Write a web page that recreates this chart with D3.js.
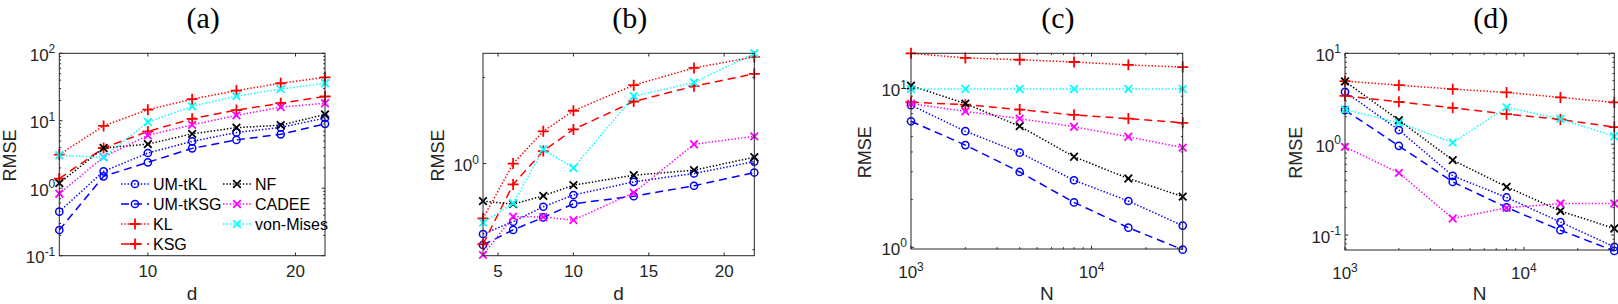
<!DOCTYPE html>
<html><head><meta charset="utf-8">
<script src="https://cdn.jsdelivr.net/npm/d3@7"></script>
<style>body{margin:0;background:#fff}svg{display:block}</style>
</head><body>
<script>
// ---------------- data ----------------
const seriesNames = ["UM-tKL","UM-tKSG","KL","KSG","NF","CADEE","von-Mises"];
const dA = [4,7,10,13,16,19,22];
const dB = [4,6,8,10,14,18,22];
const nC = [1000,2000,4000,8000,16000,32000];
const nD = [1000,2000,4000,8000,16000,32000];

// panel (a)
const aUMtKL   = [0.45,1.78,3.33,4.95,6.7,7.96,11.0];
const aUMtKSG  = [0.24,1.5,2.42,3.9,5.2,6.3,9.0];
const aKL      = [3.15,8.4,14.6,20.9,28,36,44];
const aKSG     = [1.39,3.95,6.95,10.7,14.4,18.2,22.9];
const aNF      = [1.19,3.95,4.5,6.4,7.9,8.6,12.4];
const aCADEE   = [0.83,2.9,6.07,8.7,12.0,15.9,18.2];
const aVonMises= [3.08,2.87,9.6,16.3,23.2,29.4,36];

// panel (b)
const bUMtKL   = [0.567,0.626,0.706,0.776,0.863,0.923,1.016];
const bUMtKSG  = [0.519,0.586,0.648,0.723,0.769,0.836,0.930];
const bKL      = [0.643,1.0,1.296,1.53,1.88,2.16,2.36];
const bKSG     = [0.522,0.845,1.106,1.316,1.648,1.864,2.06];
const bNF      = [0.739,0.721,0.771,0.840,0.91,0.948,1.052];
const bCADEE   = [0.479,0.652,0.65,0.634,0.79,1.168,1.245];
const bVonMises= [0.621,0.726,1.121,0.965,1.72,1.92,2.43];

// panel (c)
const cUMtKL   = [7.9,5.41,3.96,2.65,1.96,1.37];
const cUMtKSG  = [6.25,4.42,2.99,1.92,1.33,0.966];
const cKL      = [16.8,15.7,15.3,14.8,14.2,13.75];
const cKSG     = [8.24,7.96,7.41,6.86,6.5,6.11];
const cNF      = [10.5,8.08,5.82,3.73,2.72,2.09];
const cCADEE   = [8.08,7.22,6.5,5.77,4.99,4.26];
const cVonMises= [10.0,10.0,10.0,10.0,10.0,10.0];

// panel (d)
const dUMtKL   = [3.77,1.43,0.448,0.259,0.139,0.074];
const dUMtKSG  = [2.37,0.958,0.384,0.201,0.113,0.0668];
const dKL      = [4.94,4.46,4.03,3.71,3.27,2.88];
const dKSG     = [3.4,2.92,2.51,2.14,1.87,1.54];
const dNF      = [4.9,1.84,0.667,0.339,0.184,0.118];
const dCADEE   = [0.934,0.483,0.152,0.199,0.222,0.222];
const dVonMises= [2.41,1.72,1.04,2.54,1.90,1.22];

const titles = ["(a)","(b)","(c)","(d)"];
const xLabels = ["d","d","N","N"];
const yLabel = "RMSE";
const xTicksA = [10,20];
const xTicksB = [5,10,15,20];

// ---------------- styles ----------------
const styles = [
  {color:"#0000ff", dash:"dot",  marker:"o"},
  {color:"#0000ff", dash:"dash", marker:"o"},
  {color:"#ff0000", dash:"dot",  marker:"+"},
  {color:"#ff0000", dash:"dash", marker:"+"},
  {color:"#000000", dash:"dot",  marker:"x"},
  {color:"#ff00ff", dash:"dot",  marker:"x"},
  {color:"#00ffff", dash:"dot",  marker:"x"}
];
const AX = "#262626";
const SANS = "'Liberation Sans', Arial, Helvetica, sans-serif";
const SERIF = "'Liberation Serif', 'Times New Roman', serif";

const panels = [
  {xs:dA, ys:[aUMtKL,aUMtKSG,aKL,aKSG,aNF,aCADEE,aVonMises], xLog:false, xDom:[4,22], xTicks:xTicksA,
   yDom:[0.1,100], yMajor:[0.1,1,10,100],
   L:59.3,R:325,T:53.3,B:255.7, ylabX:10, legend:true},
  {xs:dB, ys:[bUMtKL,bUMtKSG,bKL,bKSG,bNF,bCADEE,bVonMises], xLog:false, xDom:[4,22], xTicks:xTicksB,
   yDom:[0.476,2.43], yMajor:[1], yMinor:[0.5,2],
   L:483,R:754.3,T:53.3,B:255.7, ylabX:438},
  {xs:nC, ys:[cUMtKL,cUMtKSG,cKL,cKSG,cNF,cCADEE,cVonMises], xLog:true, xDom:[1000,32000], xTicks:[1000,10000],
   yDom:[0.975,16.8], yMajor:[1,10],
   L:911,R:1182.7,T:53.3,B:249, ylabX:865},
  {xs:nD, ys:[dUMtKL,dUMtKSG,dKL,dKSG,dNF,dCADEE,dVonMises], xLog:true, xDom:[1000,32000], xTicks:[1000,10000],
   yDom:[0.0684,10], yMajor:[0.1,1,10],
   L:1345,R:1614.3,T:53.3,B:250, ylabX:1296}
];

const svg = d3.select("body").append("svg").attr("width",1618).attr("height",304)
  .style("font-family",SANS);

function minorTicks(dom){
  const out=[];
  const lo=Math.floor(Math.log10(dom[0])), hi=Math.ceil(Math.log10(dom[1]));
  for(let e=lo;e<=hi;e++) for(let k=2;k<=9;k++){
    const v=k*Math.pow(10,e);
    if(v>=dom[0]*0.999 && v<=dom[1]*1.001) out.push(v);
  }
  return out;
}

function drawMarker(g, type, x, y, color){
  if(type==="o"){
    g.append("circle").attr("cx",x).attr("cy",y).attr("r",3.6)
      .attr("fill","none").attr("stroke",color).attr("stroke-width",1.5);
  } else if(type==="+"){
    const s=5.5;
    g.append("path").attr("d",`M${x-s},${y}H${x+s}M${x},${y-s}V${y+s}`)
      .attr("stroke",color).attr("stroke-width",1.8).attr("fill","none");
  } else {
    const s=3.8;
    g.append("path").attr("d",`M${x-s},${y-s}L${x+s},${y+s}M${x-s},${y+s}L${x+s},${y-s}`)
      .attr("stroke",color).attr("stroke-width",1.8).attr("fill","none");
  }
}
function dashOf(d){ return d==="dot" ? "1.4 1.9" : "8 5"; }

function supLabel(g, x, y, exp, anchor){
  const t = g.append("text").attr("x",x).attr("y",y).attr("text-anchor",anchor)
    .attr("fill",AX).style("font-size","17px");
  t.append("tspan").text("10");
  t.append("tspan").attr("dy",-7.5).style("font-size","12px").text(String(exp));
}

panels.forEach((p,pi)=>{
  const g = svg.append("g");
  const x = (p.xLog? d3.scaleLog(): d3.scaleLinear()).domain(p.xDom).range([p.L,p.R]);
  const y = d3.scaleLog().domain(p.yDom).range([p.B,p.T]);

  // ticks (inward, all four sides)
  const tk = g.append("g").attr("stroke",AX).attr("stroke-width",1);
  const xMinor = p.xLog ? minorTicks(p.xDom) : [];
  const yMinor = p.yMinor ? p.yMinor : minorTicks(p.yDom);
  p.xTicks.forEach(v=>{ const X=x(v);
    tk.append("line").attr("x1",X).attr("x2",X).attr("y1",p.B).attr("y2",p.B-3.2);
    tk.append("line").attr("x1",X).attr("x2",X).attr("y1",p.T).attr("y2",p.T+3.2); });
  xMinor.forEach(v=>{ const X=x(v);
    tk.append("line").attr("x1",X).attr("x2",X).attr("y1",p.B).attr("y2",p.B-1.8);
    tk.append("line").attr("x1",X).attr("x2",X).attr("y1",p.T).attr("y2",p.T+1.8); });
  p.yMajor.forEach(v=>{ const Y=y(v);
    tk.append("line").attr("y1",Y).attr("y2",Y).attr("x1",p.L).attr("x2",p.L+3.2);
    tk.append("line").attr("y1",Y).attr("y2",Y).attr("x1",p.R).attr("x2",p.R-3.2); });
  yMinor.forEach(v=>{ const Y=y(v);
    tk.append("line").attr("y1",Y).attr("y2",Y).attr("x1",p.L).attr("x2",p.L+1.8);
    tk.append("line").attr("y1",Y).attr("y2",Y).attr("x1",p.R).attr("x2",p.R-1.8); });

  // tick labels
  p.yMajor.forEach(v=>{
    supLabel(g, p.L-4, y(v)+7.5, Math.round(Math.log10(v)), "end");
  });
  p.xTicks.forEach(v=>{
    if(p.xLog){
      supLabel(g, x(v), p.B+29, Math.round(Math.log10(v)), "middle");
    } else {
      g.append("text").attr("x",x(v)).attr("y",p.B+21).attr("text-anchor","middle")
        .attr("fill",AX).style("font-size","17px").text(v);
    }
  });

  // series
  p.ys.forEach((vals,si)=>{
    const st = styles[si];
    const line = d3.line().x((d,i)=>x(p.xs[i])).y(d=>y(d));
    g.append("path").datum(vals).attr("d",line).attr("fill","none")
      .attr("stroke",st.color).attr("stroke-width",1.5)
      .attr("stroke-dasharray",dashOf(st.dash));
    vals.forEach((v,i)=>drawMarker(g, st.marker, x(p.xs[i]), y(v), st.color));
  });

  // box
  g.append("rect").attr("x",p.L).attr("y",p.T).attr("width",p.R-p.L).attr("height",p.B-p.T)
    .attr("fill","none").attr("stroke",AX).attr("stroke-width",1);

  // labels
  const cx=(p.L+p.R)/2;
  svg.append("text").attr("x",cx+11).attr("y",28).attr("text-anchor","middle")
    .style("font-family",SERIF).style("font-size","30px").attr("fill","#000").text(titles[pi]);
  svg.append("text").attr("x",cx).attr("y",300).attr("text-anchor","middle")
    .style("font-size","19px").attr("fill",AX).text(xLabels[pi]);
  const cy=(p.T+p.B)/2+1;
  svg.append("text").attr("transform",`translate(${p.ylabX},${cy}) rotate(-90)`)
    .attr("text-anchor","middle").attr("dy","0.36em")
    .style("font-size","18px").attr("fill",AX).text(yLabel);

  // legend
  if(p.legend){
    const lg = svg.append("g");
    const rowsY=[184,204,224,244];
    seriesNames.forEach((name,si)=>{
      const col = si<4?0:1, row = si<4?si:si-4;
      const x0 = col===0?121:223, x1 = x0+28, yy = rowsY[row];
      const st = styles[si];
      lg.append("line").attr("x1",x0).attr("x2",x1).attr("y1",yy).attr("y2",yy)
        .attr("stroke",st.color).attr("stroke-width",1.5).attr("stroke-dasharray",dashOf(st.dash));
      drawMarker(lg, st.marker, (x0+x1)/2, yy, st.color);
      lg.append("text").attr("x",x1+4).attr("y",yy).attr("dy","0.36em")
        .style("font-size","16px").attr("fill","#000").text(name);
    });
  }
});
</script>
</body></html>
